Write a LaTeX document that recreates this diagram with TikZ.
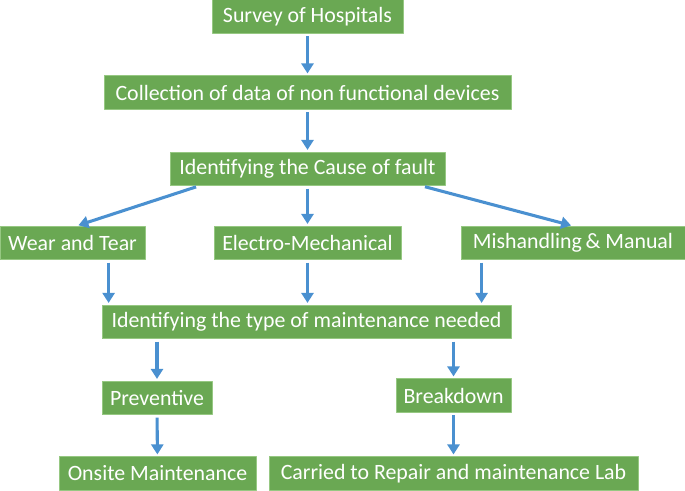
\documentclass[tikz,border=0pt]{standalone}
\usepackage{fontspec}
\setmainfont{Carlito}
\usetikzlibrary{arrows.meta,calc}

\definecolor{boxgreen}{RGB}{106,168,83}
\definecolor{boxedge}{RGB}{150,200,130}
\definecolor{arrowblue}{RGB}{74,144,208}

\begin{document}
\begin{tikzpicture}[
  x=0.75pt, y=-0.75pt,
  line join=round,
  stage/.style={fill=boxgreen, draw=boxedge, line width=0.6pt, text=white,
    font=\fontsize{16.4}{18}\selectfont, inner sep=0pt,
    minimum height=25pt},
  arr/.style={draw=arrowblue, line width=2.3pt,
    -{Triangle[length=7.5pt,width=9pt]}, shorten <=2pt, shorten >=1.5pt},
]
\useasboundingbox (0,0) rectangle (685,491);

% the main line
\node[stage, minimum width=191*0.75pt] (survey) at (307.5,16.5) {Survey of Hospitals};
\node[stage, minimum width=407*0.75pt] (collect) at (307.5,92.5) {Collection of data of non functional devices};
\node[stage, minimum width=275*0.75pt] (cause) at (307.5,169) {Identifying the Cause of fault};

% the three causes
\node[stage, minimum width=145*0.75pt] (wear) at (72.5,243) {Wear and Tear};
\node[stage, minimum width=187*0.75pt] (electro) at (307.5,243) {Electro-Mechanical};
\node[stage, minimum width=224*0.75pt] (mishand) at (573,243) {Mishandling\,\& Manual};

\node[stage, minimum width=409*0.75pt] (mtype) at (306.5,322) {Identifying the type of maintenance needed};

% the two kinds of maintenance
\node[stage, minimum width=110*0.75pt] (prevent) at (157,398) {Preventive};
\node[stage, minimum width=115*0.75pt] (breakd) at (453.5,395.5) {Breakdown};
\node[stage, minimum width=197*0.75pt] (onsite) at (157.5,473.5) {Onsite Maintenance};
\node[stage, minimum width=369*0.75pt] (replab) at (453.5,473.5) {Carried to Repair and maintenance Lab};

\draw[arr] (survey) -- (collect);
\draw[arr] (collect) -- (cause);
\draw[arr] ($(cause.south west)+(29,0)$) -- ($(wear.north)+(4,0)$);
\draw[arr] (cause) -- (electro);
\draw[arr] ($(cause.south east)+(-23,0)$) -- (mishand.north);

\coordinate (wt) at ($(mtype.north west)+(7,0)$);
\coordinate (mt) at ($(mishand.south west)+(21,0)$);
\draw[arr] (wear.south -| wt) -- (wt);
\draw[arr] (electro) -- (electro |- mtype.north);
\draw[arr] (mt) -- (mt |- mtype.north);

\draw[arr] (mtype.south -| prevent) -- (prevent);
\draw[arr] (mtype.south -| breakd) -- (breakd);
\draw[arr] (prevent) -- (onsite);
\draw[arr] (breakd) -- (replab);

\end{tikzpicture}
\end{document}
